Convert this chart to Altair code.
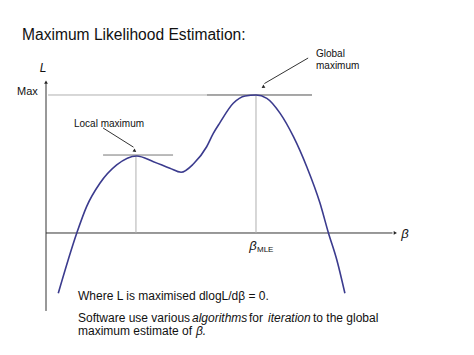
import altair as alt
import pandas as pd

# Likelihood curve (beta, L); L is scaled so the global max = 1
beta = [0.35, 0.88, 1.16, 1.54, 2.02, 2.59, 3.07, 3.54, 3.86, 4.21, 4.59, 4.78, 4.97,
        5.35, 5.69, 6.00, 6.31, 6.69, 7.07, 7.45, 7.83, 8.07, 8.31, 8.54]
L = [-0.437, 0.0, 0.191, 0.360, 0.493, 0.558, 0.517, 0.469, 0.440, 0.500, 0.625, 0.722, 0.800,
     0.940, 0.993, 1.000, 0.976, 0.867, 0.698, 0.480, 0.215, 0.0, -0.196, -0.437]

# Guide segments: name, x1, y1, x2, y2 in data units
seg_name = ["yaxis", "xaxis", "max_light", "max_dark", "local_h", "local_v", "mle_v",
            "glob_arrow", "loc_arrow"]
seg_x1 = [0.0, 0.0, 0.06, 4.60, 1.63, 2.57, 6.00, 7.49, 1.63]
seg_y1 = [-0.565, 0.0, 1.0, 1.0, 0.565, 0.565, 1.0, 1.268, 0.761]
seg_x2 = [0.0, 9.9, 7.60, 7.60, 3.63, 2.57, 6.00, 6.24, 2.50]
seg_y2 = [1.085, 0.0, 1.0, 1.0, 0.565, 0.0, 0.0, 1.083, 0.622]
seg_color = ["#333333", "#333333", "#b0b0b0", "#777777", "#777777", "#b0b0b0", "#b0b0b0",
             "#333333", "#333333"]

# Arrow heads: x, y, angle
head_x = [0.0, 9.98, 6.20, 2.54]
head_y = [1.094, 0.0, 1.058, 0.594]
head_angle = [0, 90, 237, 126]

curve = pd.DataFrame({"beta": beta, "L": L})
segs = pd.DataFrame({"name": seg_name, "x": seg_x1, "y": seg_y1, "x2": seg_x2,
                     "y2": seg_y2, "c": seg_color})
heads = pd.DataFrame({"x": head_x, "y": head_y, "a": head_angle})

xs = alt.Scale(domain=[-1.3143, 12.2286], nice=False, zero=False)
ys = alt.Scale(domain=[-0.8841, 1.6884], nice=False, zero=False)

X = lambda f: alt.X(f, scale=xs, axis=None)
Y = lambda f: alt.Y(f, scale=ys, axis=None)

seg_layer = alt.Chart(segs).mark_rule(strokeWidth=1).encode(
    x=X("x:Q"), y=Y("y:Q"), x2="x2:Q", y2="y2:Q",
    color=alt.Color("c:N", scale=None))

curve_layer = alt.Chart(curve).mark_line(color="#3b3b8e", strokeWidth=1.6,
                                         interpolate="monotone").encode(
    x=X("beta:Q"), y=Y("L:Q"))

head_layer = alt.Chart(heads).mark_point(shape="triangle-up", filled=True, size=14,
                                         color="#222222", opacity=1).encode(
    x=X("x:Q"), y=Y("y:Q"), angle=alt.Angle("a:Q", scale=None))

FONT = "Liberation Sans"

def txt(s, x, y, size=12, style="normal", align="left", baseline="alphabetic", color="#111111"):
    return alt.Chart(pd.DataFrame({"t": [s]})).mark_text(
        font=FONT, fontSize=size, fontStyle=style, align=align, baseline=baseline,
        color=color).encode(text="t:N", x=alt.value(x), y=alt.value(y))

texts = [
    txt("Maximum Likelihood Estimation:", 22, 40, size=15.6),
    txt("L", 43, 72, size=12, style="italic", align="center"),
    txt("Max", 17, 95, size=11),
    txt("Global", 316, 57, size=10),
    txt("maximum", 316, 69, size=10),
    txt("Local maximum", 74, 127, size=10),
    txt("β", 405, 238, size=13, style="italic", align="center"),
    txt("β", 253, 250, size=13, style="italic", align="center"),
    txt("MLE", 257, 252, size=8),
    txt("Where L is maximised dlogL/dβ = 0.", 78, 300, size=12),
    txt("Software use various", 78, 322, size=12),
    txt("algorithms", 192, 322, size=12, style="italic"),
    txt("for", 249, 322, size=12),
    txt("iteration", 268, 322, size=12, style="italic"),
    txt("to the global", 313, 322, size=12),
    txt("maximum estimate of", 78, 335, size=12),
    txt("β.", 196, 335, size=12, style="italic"),
]

chart = alt.layer(seg_layer, curve_layer, head_layer, *texts).properties(
    width=474, height=355, padding=0, autosize=alt.AutoSizeParams(type="none"),
    background="white"
).configure_view(stroke=None)

chart.save("out.html", embed_options={"renderer": "svg", "actions": False})
